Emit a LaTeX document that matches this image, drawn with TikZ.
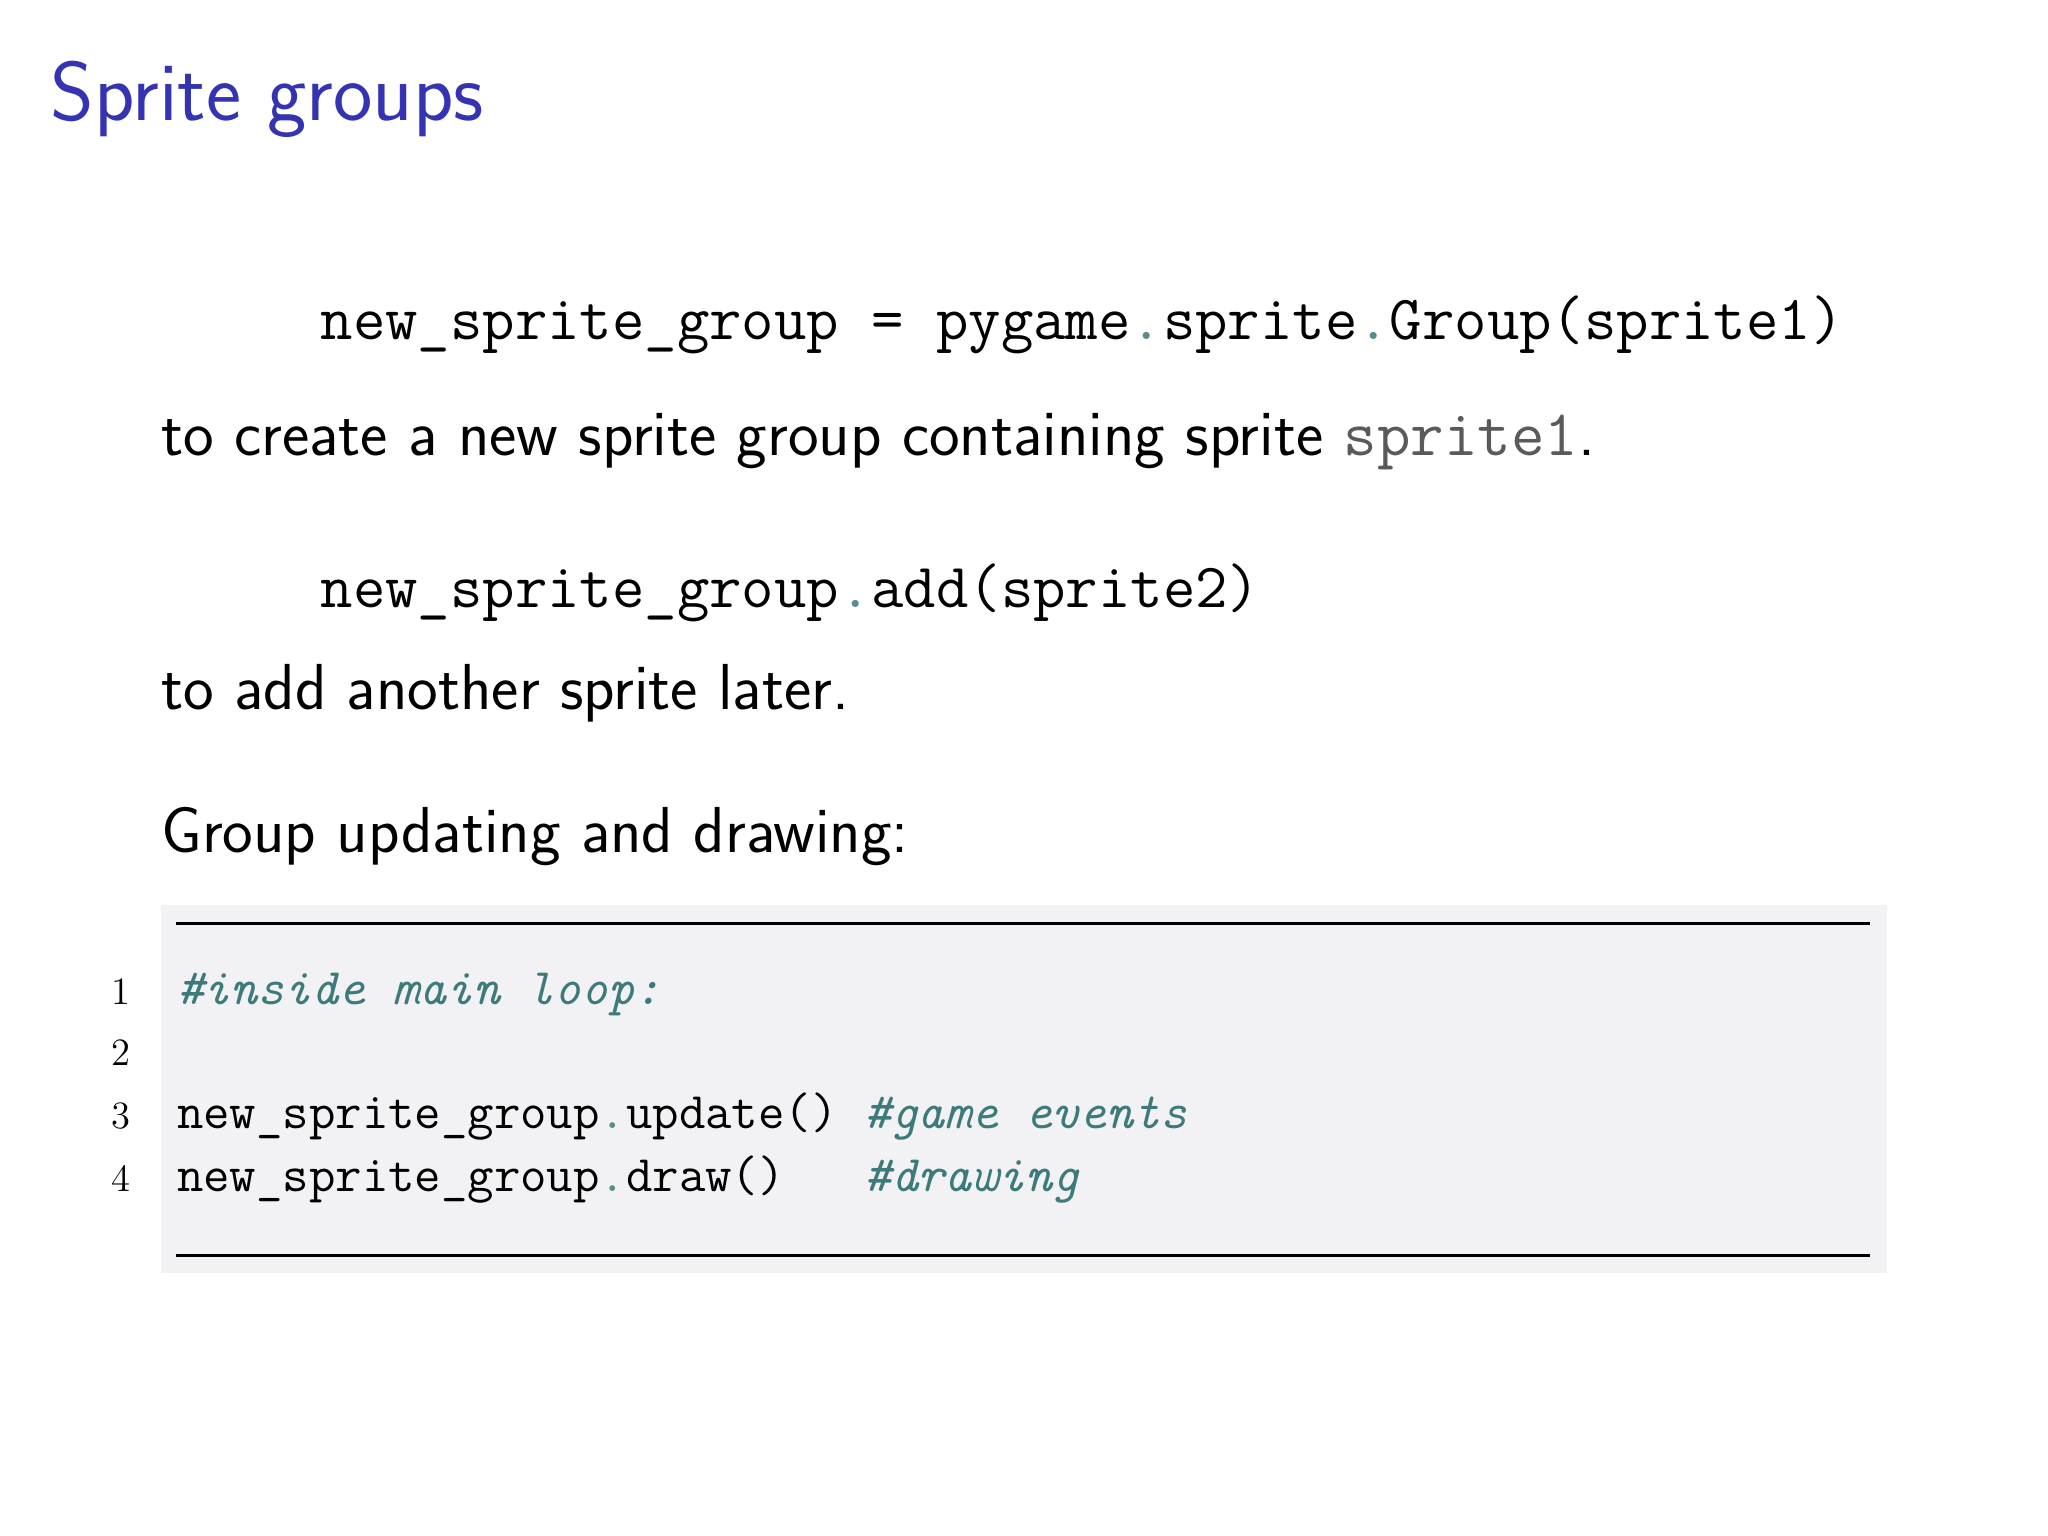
\documentclass[tikz,border=0pt]{standalone}
\usepackage{fontspec}
\definecolor{titleblue}{RGB}{51,51,179}
\definecolor{cmt}{RGB}{61,122,122}
\definecolor{dotc}{RGB}{90,140,140}
\definecolor{boxg}{RGB}{242,241,244}
\definecolor{inl}{RGB}{90,90,90}
\newcommand{\dt}{\textcolor{dotc}{.}}
\begin{document}
\begin{tikzpicture}[x=0.01306cm,y=-0.01306cm,
  body/.style={anchor=base west,inner sep=0pt,font=\sffamily\fontsize{18.5}{22}\selectfont},
  code/.style={anchor=base west,inner sep=0pt,font=\ttfamily\fontsize{17.9}{21}\selectfont},
  lst/.style={anchor=base west,inner sep=0pt,font=\ttfamily\fontsize{14.6}{17}\selectfont},
  num/.style={anchor=base,inner sep=0pt,font=\rmfamily\fontsize{11}{13}\selectfont}]
\useasboundingbox (0,0) rectangle (1568,1176);
\fill[white] (0,0) rectangle (1568,1176);
\node[anchor=base west,inner sep=0pt,text=titleblue,font=\sffamily\fontsize{23.8}{28}\selectfont] (title) at (38,92) {Sprite groups};
\node[code] (c1) at (245,260) {new\_sprite\_group = pygame\dt sprite\dt Group(sprite1)};
\node[body] (t1) at (123,349) {to create a new sprite group containing sprite \textcolor{inl}{\ttfamily sprite1}.};
\node[code] (c2) at (245,465) {new\_sprite\_group\dt add(sprite2)};
\node[body] (t2) at (123,543) {to add another sprite later.};
\node[body] (t3) at (123,653) {Group updating and drawing:};
\fill[boxg] (123,693) rectangle (1445,975);
\draw[line width=0.8pt] (135,707) -- (1432,707);
\draw[line width=0.8pt] (135,961) -- (1432,961);
\node[num] (n1) at (93,769) {1};
\node[num] (n2) at (93,816) {2};
\node[num] (n3) at (93,864) {3};
\node[num] (n4) at (93,912) {4};
\node[lst] (l1) at (135,769) {\textcolor{cmt}{\itshape\#inside main loop:}};
\node[lst] (l3) at (135,864) {new\_sprite\_group\dt update() \textcolor{cmt}{\itshape\#game events}};
\node[lst] (l4) at (135,912) {new\_sprite\_group\dt draw()\ \ \ \textcolor{cmt}{\itshape\#drawing}};
\end{tikzpicture}
\end{document}
